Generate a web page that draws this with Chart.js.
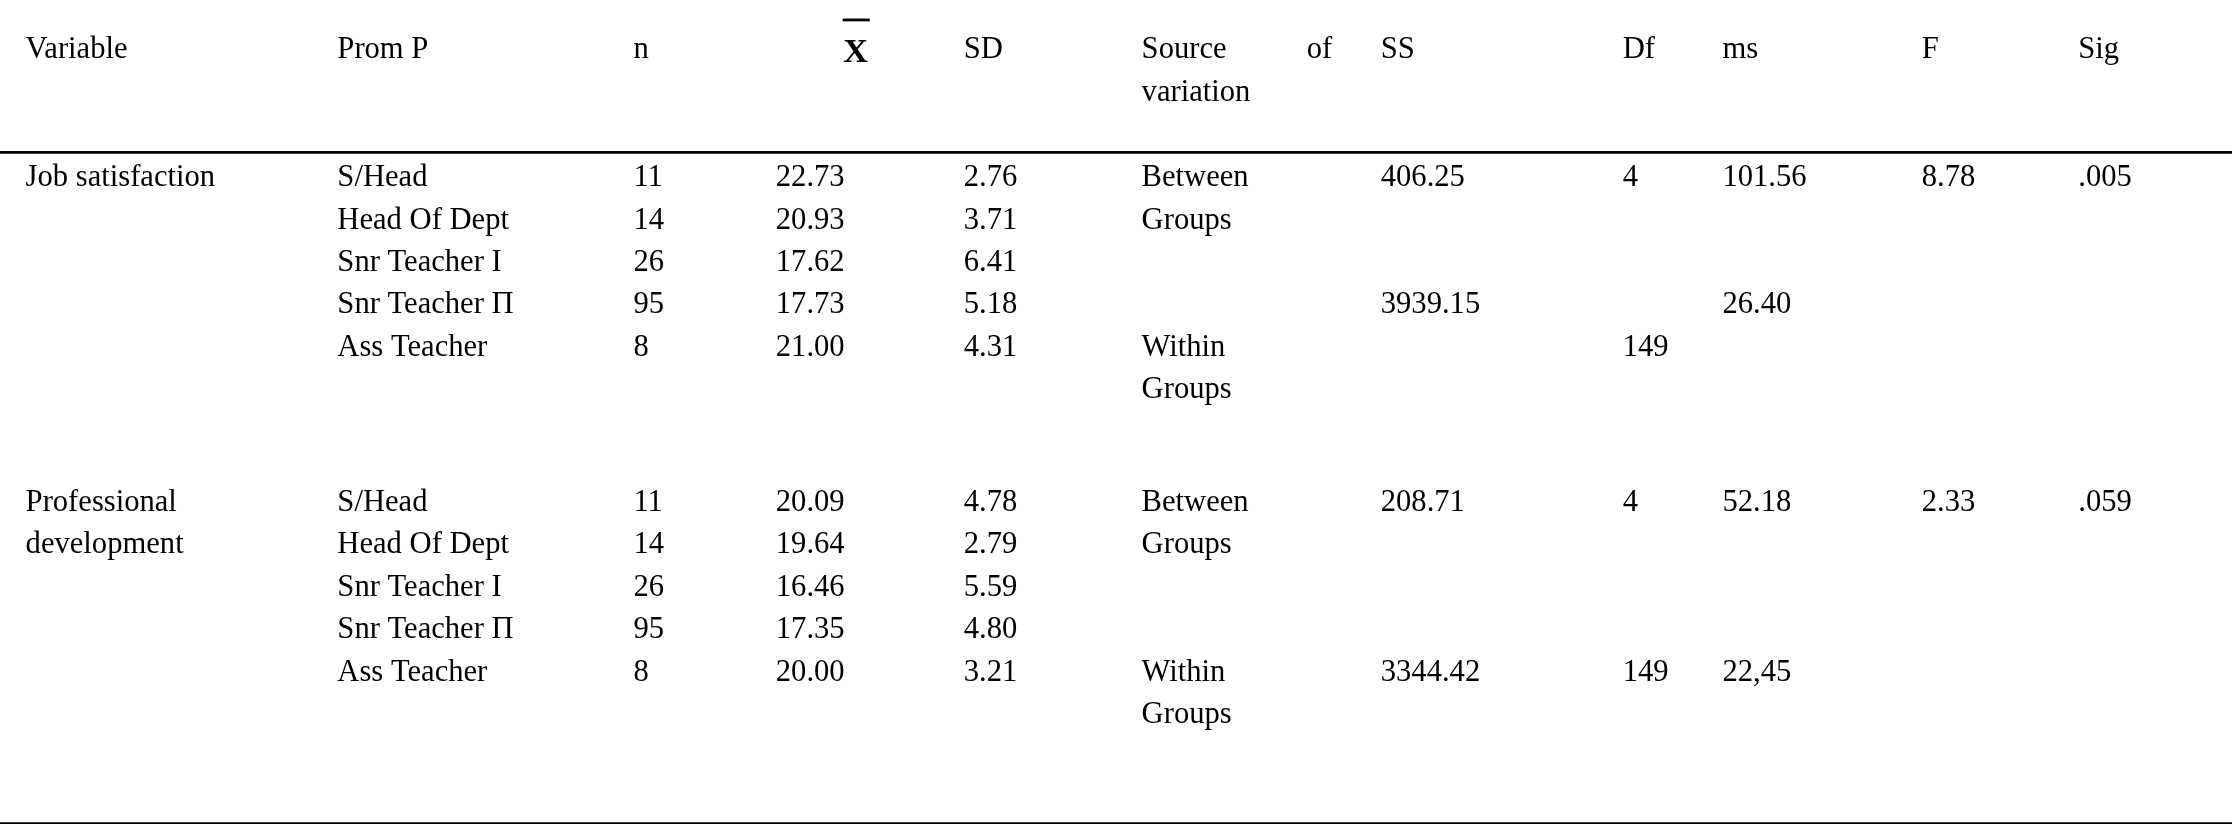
<!DOCTYPE html>
<html>
<head>
<meta charset="utf-8">
<script src="https://cdn.jsdelivr.net/npm/chart.js@4/dist/chart.umd.min.js"></script>
<style>
  html, body { margin: 0; padding: 0; background: #fff; }
  #wrap { width: 2232px; height: 826px; }
</style>
</head>
<body>
<div id="wrap"><canvas id="tableChart"></canvas></div>
<script>
// table contents
const headers = ['Variable', 'Prom P', 'n', '', 'SD', '', 'SS', 'Df', 'ms', 'F', 'Sig']
const variables = [['Job satisfaction'], ['Professional', 'development']]
const groups = ['S/Head', 'Head Of Dept', 'Snr Teacher I', 'Snr Teacher Π', 'Ass Teacher']
const nVals = ['11', '14', '26', '95', '8']
const jobMean = ['22.73', '20.93', '17.62', '17.73', '21.00']
const jobSD = ['2.76', '3.71', '6.41', '5.18', '4.31']
const profMean = ['20.09', '19.64', '16.46', '17.35', '20.00']
const profSD = ['4.78', '2.79', '5.59', '4.80', '3.21']
// anova: [SS, Df, ms, F, Sig] between; within rows given separately
const jobBetween = ['406.25', '4', '101.56', '8.78', '.005']
const jobWithin = { SS: ['3939.15', 3], Df: ['149', 4], ms: ['26.40', 3] }
const profBetween = ['208.71', '4', '52.18', '2.33', '.059']
const profWithin = { SS: ['3344.42', 4], Df: ['149', 4], ms: ['22,45', 4] }

// layout in reference units (1568 x 580)
const W = 1568, H = 580
const colX = [18, 237, 445, 545, 677, 802, 970, 1140, 1210, 1350, 1460]
const headY = 35
const blockTop = [125, 353]
const rowStep = 29.8

var cells = []
function cell(col, y, text, opts) {
    cells.push(Object.assign({ x: colX[col], y: y, text: text }, opts || {}))
}

headers.forEach(function(h, i) { if (h) cell(i, headY, h) })
cell(5, headY, 'Source')
cell(5, headY, 'of', { x: 918 })
cell(5, headY + 30, 'variation')

function block(b, meanArr, sdArr, between, within) {
    var top = blockTop[b]
    variables[b].forEach(function(t, i) { cell(0, top + i * rowStep, t) })
    for (var i = 0; i < groups.length; i++) {
        var y = top + i * rowStep
        cell(1, y, groups[i])
        cell(2, y, nVals[i])
        cell(3, y, meanArr[i])
        cell(4, y, sdArr[i])
    }
    cell(5, top, 'Between')
    cell(5, top + rowStep, 'Groups')
    cell(5, top + 4 * rowStep, 'Within')
    cell(5, top + 5 * rowStep, 'Groups')
    for (var j = 0; j < between.length; j++) cell(6 + j, top, between[j])
    cell(6, top + within.SS[1] * rowStep, within.SS[0])
    cell(7, top + within.Df[1] * rowStep, within.Df[0])
    cell(8, top + within.ms[1] * rowStep, within.ms[0])
}
block(0, jobMean, jobSD, jobBetween, jobWithin)
block(1, profMean, profSD, profBetween, profWithin)

const tablePlugin = {
    id: 'tablePlugin',
    afterDatasetsDraw(chart) {
        const c = chart.ctx
        const xs = chart.scales.x, ys = chart.scales.y
        const k = chart.width / W
        c.save()
        c.fillStyle = '#000'
        c.textBaseline = 'middle'
        c.textAlign = 'left'
        c.font = (21.5 * k) + 'px "Liberation Serif", "DejaVu Serif", serif'
        chart.data.datasets[0].data.forEach(function(d) {
            c.fillText(d.text, xs.getPixelForValue(d.x), ys.getPixelForValue(d.y))
        })
        // x bar header
        c.font = 'bold ' + (24 * k) + 'px "Liberation Serif", serif'
        c.textAlign = 'center'
        c.fillText('X', xs.getPixelForValue(601), ys.getPixelForValue(headY + 2))
        c.lineWidth = 2 * k
        c.beginPath()
        c.moveTo(xs.getPixelForValue(592), ys.getPixelForValue(14))
        c.lineTo(xs.getPixelForValue(611), ys.getPixelForValue(14))
        c.stroke()
        // rules
        c.lineWidth = 2 * k
        c.beginPath()
        c.moveTo(xs.getPixelForValue(0), ys.getPixelForValue(107))
        c.lineTo(xs.getPixelForValue(W), ys.getPixelForValue(107))
        c.stroke()
        c.lineWidth = 1.3 * k
        c.beginPath()
        c.moveTo(xs.getPixelForValue(0), ys.getPixelForValue(578))
        c.lineTo(xs.getPixelForValue(W), ys.getPixelForValue(578))
        c.stroke()
        c.restore()
    }
}

var ctx = document.getElementById('tableChart')
new Chart(ctx, {
    type: 'scatter',
    data: {
        datasets: [{ data: cells, pointRadius: 0, pointHoverRadius: 0 }]
    },
    options: {
        responsive: true,
        maintainAspectRatio: false,
        animation: false,
        layout: { padding: 0 },
        scales: {
            x: { type: 'linear', min: 0, max: W, display: false },
            y: { type: 'linear', min: 0, max: H, reverse: true, display: false }
        },
        plugins: { legend: { display: false }, tooltip: { enabled: false } }
    },
    plugins: [tablePlugin]
})
</script>
</body>
</html>
